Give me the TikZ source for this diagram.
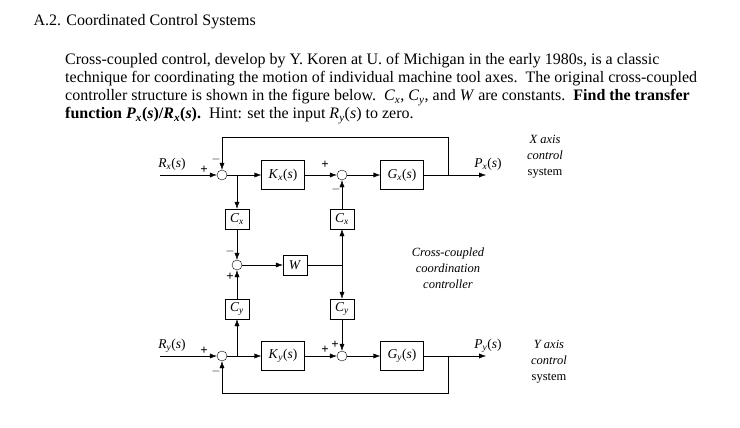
\documentclass[tikz,border=0pt]{standalone}
\usepackage{fontspec}
\setmainfont{Liberation Serif}
\usetikzlibrary{arrows.meta}
\newcommand{\sv}[2]{\textit{#1}\textsubscript{\textit{#2}}(\textit{s})}
\newcommand{\cv}[2]{\textit{#1}\textsubscript{\textit{#2}}}
\begin{document}
\begin{tikzpicture}[x=1pt,y=-1pt,
  blk/.style={draw,minimum width=43pt,minimum height=29pt,inner sep=0pt,font=\fontsize{13.5}{15}\selectfont},
  sblk/.style={draw,minimum width=24pt,minimum height=20pt,inner sep=0pt,font=\fontsize{13.5}{15}\selectfont},
  sum/.style={draw,circle,minimum size=10pt,inner sep=0pt},
  ar/.style={-{Latex[length=7pt,width=5pt]}},
  sg/.style={font=\fontsize{13}{13}\selectfont\bfseries,inner sep=0pt},
  lab/.style={font=\fontsize{13.5}{15}\selectfont},
  side/.style={font=\fontsize{12.5}{16}\selectfont,align=center}]
\useasboundingbox (0,0) rectangle (740,428);
\node[anchor=west,font=\fontsize{16}{18}\selectfont] (title) at (30,22) {A.2. Coordinated Control Systems};
\node[anchor=north west,align=left,inner sep=0pt,font=\fontsize{16}{18}\selectfont] (para) at (65,53)
{Cross-coupled control, develop by Y. Koren at U. of Michigan in the early 1980s, is a classic\\
technique for coordinating the motion of individual machine tool axes.\ \ The original cross-coupled\\
controller structure is shown in the figure below.\ \ \cv{C}{x}, \cv{C}{y}, and \textit{W} are constants.\ \ \textbf{Find the transfer}\\
\textbf{function \sv{P}{x}/\sv{R}{x}.}\ \ Hint: set the input \sv{R}{y} to zero.};
% nodes
\node[sum] (s1) at (222,175) {};
\node[blk] (kx) at (283,175) {\sv{K}{x}};
\node[sum] (s2) at (342,175) {};
\node[blk] (gx) at (402,175) {\sv{G}{x}};
\coordinate (bx) at (448,175);
\coordinate (px) at (486,175);
\coordinate (rx) at (160,175);
\node[sum] (s3) at (222,356) {};
\node[blk] (ky) at (283,356) {\sv{K}{y}};
\node[sum] (s4) at (342,356) {};
\node[blk] (gy) at (402,356) {\sv{G}{y}};
\coordinate (by) at (448,356);
\coordinate (py) at (486,356);
\coordinate (ry) at (160,356);
\node[sblk] (cx1) at (237,219) {\cv{C}{x}};
\node[sblk] (cx2) at (342,219) {\cv{C}{x}};
\node[sblk] (cy1) at (237,309) {\cv{C}{y}};
\node[sblk] (cy2) at (342,309) {\cv{C}{y}};
\node[sum] (s5) at (237,265) {};
\node[sblk] (w) at (295,265) {\textit{W}};
\coordinate (j1) at (237,175);
\coordinate (j2) at (237,356);
\coordinate (j3) at (342,265);
% connectors
\draw[ar] (rx) -- (s1);
\draw[ar] (s1) -- (kx);
\draw[ar] (kx) -- (s2);
\draw[ar] (s2) -- (gx);
\draw[ar] (gx) -- (px);
\draw[ar] (bx) -- (448,137) -| (s1);
\draw[ar] (j1) -- (cx1);
\draw[ar] (cx1) -- (s5);
\draw[ar] (s5) -- (w);
\draw (w) -- (j3);
\draw[ar] (j3) -- (cx2);
\draw[ar] (cx2) -- (s2);
\draw[ar] (j3) -- (cy2);
\draw[ar] (cy2) -- (s4);
\draw[ar] (j2) -- (cy1);
\draw[ar] (cy1) -- (s5);
\draw[ar] (ry) -- (s3);
\draw[ar] (s3) -- (ky);
\draw[ar] (ky) -- (s4);
\draw[ar] (s4) -- (gy);
\draw[ar] (gy) -- (py);
\draw[ar] (by) -- (448,393) -| (s3);
% signs
\node[sg] at (204,170) {+};
\node[sg] at (216,159) {$-$};
\node[sg] at (325,165) {+};
\node[sg] at (336,189) {$-$};
\node[sg] at (230,251) {$-$};
\node[sg] at (230,277) {+};
\node[sg] at (204,351) {+};
\node[sg] at (216,371) {$-$};
\node[sg] at (325,350) {+};
\node[sg] at (335,345) {+};
% labels
\node[lab] (lrx) at (172,164) {\sv{R}{x}};
\node[lab] (lry) at (172,346) {\sv{R}{y}};
\node[lab] (lpx) at (488,164) {\sv{P}{x}};
\node[lab] (lpy) at (488,346) {\sv{P}{y}};
\node[side] (xs) at (545,157) {\textit{X axis}\\\textit{control}\\system};
\node[side] (ys) at (549,362) {\textit{Y axis}\\\textit{control}\\system};
\node[side] (cc) at (448,268) {\textit{Cross-coupled}\\\textit{coordination}\\\textit{controller}};
\end{tikzpicture}
\end{document}
